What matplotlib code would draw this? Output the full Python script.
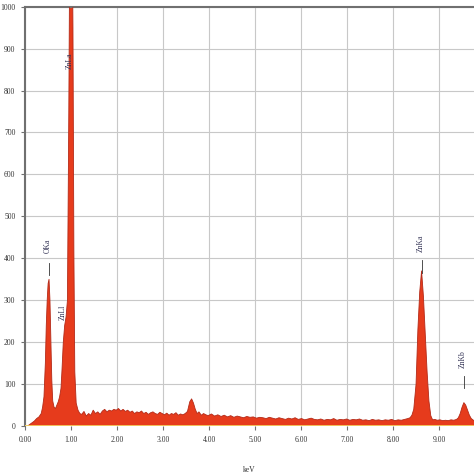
import matplotlib
matplotlib.use("Agg")
import matplotlib.pyplot as plt

# EDX spectrum (keV, counts)
energy = [0.05, 0.10, 0.15, 0.20, 0.25, 0.30, 0.35, 0.38, 0.41, 0.44, 0.46, 0.48, 0.50,
          0.52, 0.54, 0.56, 0.58, 0.60, 0.63, 0.66, 0.69, 0.72, 0.75, 0.78, 0.80, 0.83,
          0.86, 0.89, 0.92, 0.95, 0.97, 1.00, 1.02, 1.04, 1.06, 1.08, 1.11, 1.15, 1.19,
          1.23, 1.28, 1.33, 1.38, 1.43, 1.48, 1.53, 1.58, 1.63, 1.68, 1.73, 1.78, 1.83,
          1.88, 1.93, 1.98, 2.03, 2.08, 2.13, 2.18, 2.23, 2.28, 2.33, 2.38, 2.43, 2.48,
          2.53, 2.58, 2.63, 2.68, 2.73, 2.78, 2.83, 2.88, 2.93, 2.98, 3.03, 3.08, 3.13,
          3.18, 3.23, 3.28, 3.33, 3.38, 3.43, 3.48, 3.53, 3.58, 3.62, 3.66, 3.70, 3.74,
          3.78, 3.83, 3.88, 3.93, 3.98, 4.05, 4.12, 4.19, 4.26, 4.33, 4.40, 4.47, 4.54,
          4.61, 4.68, 4.75, 4.82, 4.89, 4.96, 5.03, 5.10, 5.17, 5.24, 5.31, 5.38, 5.45,
          5.52, 5.59, 5.66, 5.73, 5.80, 5.87, 5.94, 6.01, 6.08, 6.15, 6.22, 6.29, 6.36,
          6.43, 6.50, 6.57, 6.64, 6.71, 6.78, 6.85, 6.92, 6.99, 7.06, 7.13, 7.20, 7.27,
          7.34, 7.41, 7.48, 7.55, 7.62, 7.69, 7.76, 7.83, 7.90, 7.97, 8.04, 8.11, 8.18,
          8.25, 8.32, 8.37, 8.41, 8.45, 8.50, 8.54, 8.58, 8.62, 8.66, 8.70, 8.74, 8.78,
          8.82, 8.86, 8.91, 8.96, 9.02, 9.08, 9.14, 9.20, 9.26, 9.32, 9.38, 9.42, 9.46,
          9.50, 9.54, 9.58, 9.62, 9.66, 9.70, 9.76]
counts = [0, 4, 8, 12, 18, 22, 30, 45, 70, 150, 240, 300, 340,
          350, 300, 200, 110, 60, 45, 42, 50, 58, 70, 90, 130, 200,
          240, 260, 300, 750, 1150, 1300, 1250, 950, 420, 130, 55, 38, 30,
          28, 35, 24, 30, 26, 38, 30, 34, 28, 36, 40, 34, 38,
          36, 40, 38, 42, 36, 40, 35, 38, 33, 36, 30, 34, 32,
          36, 30, 33, 28, 32, 34, 30, 28, 33, 30, 27, 31, 26,
          30, 28, 32, 26, 29, 27, 30, 35, 58, 65, 55, 40, 30,
          34, 26, 30, 27, 25, 29, 24, 27, 23, 26, 22, 25, 21,
          24, 22, 20, 23, 21, 22, 19, 21, 20, 18, 21, 19, 17,
          20, 18, 16, 19, 17, 20, 16, 18, 15, 17, 19, 16, 15,
          17, 14, 16, 15, 18, 14, 16, 15, 17, 14, 16, 15, 17,
          14, 15, 13, 16, 14, 15, 13, 15, 14, 16, 13, 15, 14,
          16, 18, 20, 26, 40, 100, 230, 320, 370, 310, 220, 130, 60,
          25, 15, 16, 14, 15, 13, 14, 13, 15, 14, 16, 20, 30,
          45, 56, 50, 38, 26, 18, 13]

# peak annotations: label, position (keV), text height (counts), marker line?
peak_labels = ["OKa", "ZnLa", "ZnLl", "ZnKa", "ZnKb"]
peak_pos = [0.52, 1.00, 0.85, 8.62, 9.54]
label_y = [430, 870, 270, 435, 160]
has_marker = [True, False, False, True, True]

fill_color = "#e63b1c"
edge_color = "#b42a18"
grid_color = "#c8c8c8"
axis_color = "#707070"

fig = plt.figure(figsize=(4.74, 4.74), dpi=100)
ax = fig.add_axes([0.053, 0.101, 0.947, 0.885])

ax.fill_between(energy, counts, 0, color=fill_color, linewidth=0, zorder=2)
ax.plot(energy, counts, color=edge_color, linewidth=0.6, zorder=3)
ax.axhline(0, color="#f3d060", linewidth=2.0, zorder=4)

ax.set_xlim(0, 9.76)
ax.set_ylim(0, 1000)
ax.set_xticks([0, 1, 2, 3, 4, 5, 6, 7, 8, 9])
ax.set_xticklabels([f"{v:.2f}" for v in range(10)])
ax.set_yticks(range(0, 1001, 100))
ax.tick_params(axis="both", labelsize=5.5, colors="#333333", length=3,
               width=0.8, pad=4)
ax.tick_params(axis="both", color=axis_color)
for lbl in ax.get_xticklabels() + ax.get_yticklabels():
    lbl.set_family("Liberation Serif")
ax.grid(True, color=grid_color, linewidth=0.8, zorder=0)
ax.set_axisbelow(True)

for side in ["right", "bottom"]:
    ax.spines[side].set_visible(False)
ax.spines["left"].set_color(axis_color)
ax.spines["left"].set_linewidth(1.5)
ax.spines["top"].set_color(axis_color)
ax.spines["top"].set_linewidth(1.5)

ax.set_xlabel("keV", fontsize=5.5, labelpad=16, color="#333333",
              family="Liberation Serif")

for lab, x, y, mk in zip(peak_labels, peak_pos, label_y, has_marker):
    ax.text(x - 0.03, y, lab, rotation=90, fontsize=5.5, color="#333355",
            ha="center", va="center", zorder=5, family="Liberation Serif")
    if mk:
        ax.plot([x, x], [y - 70, y - 40], color="#333333", linewidth=0.6, zorder=5)

fig.savefig("out.png", dpi=100)
